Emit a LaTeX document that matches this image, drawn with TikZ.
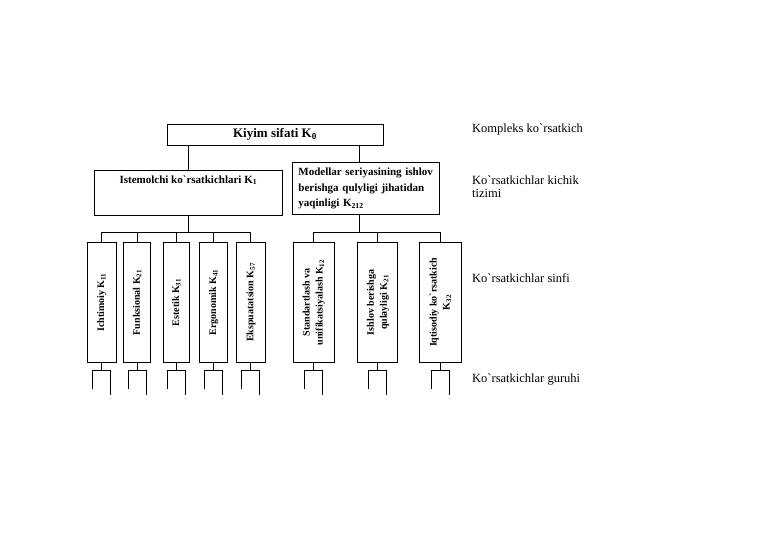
\documentclass[tikz,border=0pt]{standalone}
\usepackage{fontspec}
\setmainfont{Liberation Serif}
\usepackage{graphicx}
\usepackage{tikz}
\usetikzlibrary{positioning}
\newcommand{\gv}{\textasciigrave}
\newcommand{\vtxt}[1]{\rotatebox{90}{\begin{tabular}{@{}c@{}}#1\end{tabular}}}

\begin{document}
\begin{tikzpicture}[
    x=1pt, y=-1pt,
    node distance=7pt,
    kbox/.style={rectangle, draw, line width=0.8pt, inner sep=0pt,
                 font=\fontsize{13}{15}\selectfont\bfseries},
    sbox/.style={rectangle, draw, line width=0.8pt, anchor=north west,
                 font=\fontsize{11}{15.5}\selectfont\bfseries},
    vbox/.style={rectangle, draw, line width=0.8pt, inner sep=0pt,
                 minimum height=120pt, anchor=north,
                 font=\fontsize{10}{13}\selectfont\bfseries},
    note/.style={anchor=west, align=left, inner sep=0pt,
                 font=\fontsize{12.5}{13.5}\selectfont},
    ln/.style={line width=0.8pt}
]
\useasboundingbox (0,0) rectangle (768,543);

% complex and subsystems
\node[kbox, minimum width=216pt, minimum height=21pt] (k0) at (275,134.5) {Kiyim sifati K\textsubscript{0}};
\node[sbox, minimum width=188pt, minimum height=45pt, inner sep=0pt] (k1) at (94,170)
    {\parbox[t][39pt][t]{188pt}{\centering\vspace{2pt}Istemolchi ko\gv rsatkichlari K\textsubscript{1}}};
\node[sbox, minimum width=147pt, minimum height=52pt, inner xsep=6pt, inner ysep=3pt,
      text width=135pt, align=left] (k2) at (292,162)
    {Modellar seriyasining ishlov\\berishga qulyligi jihatidan\\yaqinligi K\textsubscript{212}};

% classes
\node[vbox, minimum width=29pt] (k11) at (101.5,242) {\vtxt{Ichtimoiy K\textsubscript{11}}};
\node[vbox, minimum width=27pt, right=7pt of k11] (k21) {\vtxt{Funksional K\textsubscript{21}}};
\node[vbox, minimum width=26pt, right=12pt of k21] (k31) {\vtxt{Estetik K\textsubscript{31}}};
\node[vbox, minimum width=28pt, right=9pt of k31] (k41) {\vtxt{Ergonomik K\textsubscript{41}}};
\node[vbox, minimum width=29pt, right=8pt of k41] (k51) {\vtxt{Ekspuatatsion K\textsubscript{57}}};

\node[vbox, minimum width=41pt] (k12) at (313.5,242) {\vtxt{Standartlash va\\unifikatsiyalash K\textsubscript{12}}};
\node[vbox, minimum width=40pt, right=23pt of k12] (k22) {\vtxt{Ishlov berishga\\qulayligi K\textsubscript{21}}};
\node[vbox, minimum width=42pt, right=21pt of k22] (k32) {\vtxt{Iqtisodiy ko\gv rsatkich\\K\textsubscript{32}}};

% levels
\node[note] (lk) at (472,129) {Kompleks ko\gv rsatkich};
\node[note] (lt) at (472,186.5) {Ko\gv rsatkichlar kichik\\tizimi};
\node[note] (ls) at (472,278) {Ko\gv rsatkichlar sinfi};
\node[note] (lg) at (472,379) {Ko\gv rsatkichlar guruhi};

% connectors
\draw[ln] (k1.north) -- (k1.north |- k0.south);
\draw[ln] ([xshift=-6.5pt]k2.north) -- ([xshift=-6.5pt]k2.north |- k0.south);
\draw[ln] (k1.south) -- ++(0,17) coordinate (bus1);
\draw[ln] ([xshift=-6.5pt]k2.south) -- ++(0,18) coordinate (bus2);
\foreach \b in {k11,k21,k31,k41,k51}
    \draw[ln] (\b.north) |- (bus1);
\foreach \b in {k12,k22,k32}
    \draw[ln] (\b.north) |- (bus2);

% groups
\foreach \b in {k11,k21,k31,k41,k51,k12,k22,k32} {
    \draw[ln] (\b.south) -- ++(0,8) coordinate (\b-f);
    \draw[ln] ([xshift=-9pt]\b-f) ++(0,18) -- ++(0,-18) -- ++(18,0) -- ++(0,24);
}
\end{tikzpicture}
\end{document}
